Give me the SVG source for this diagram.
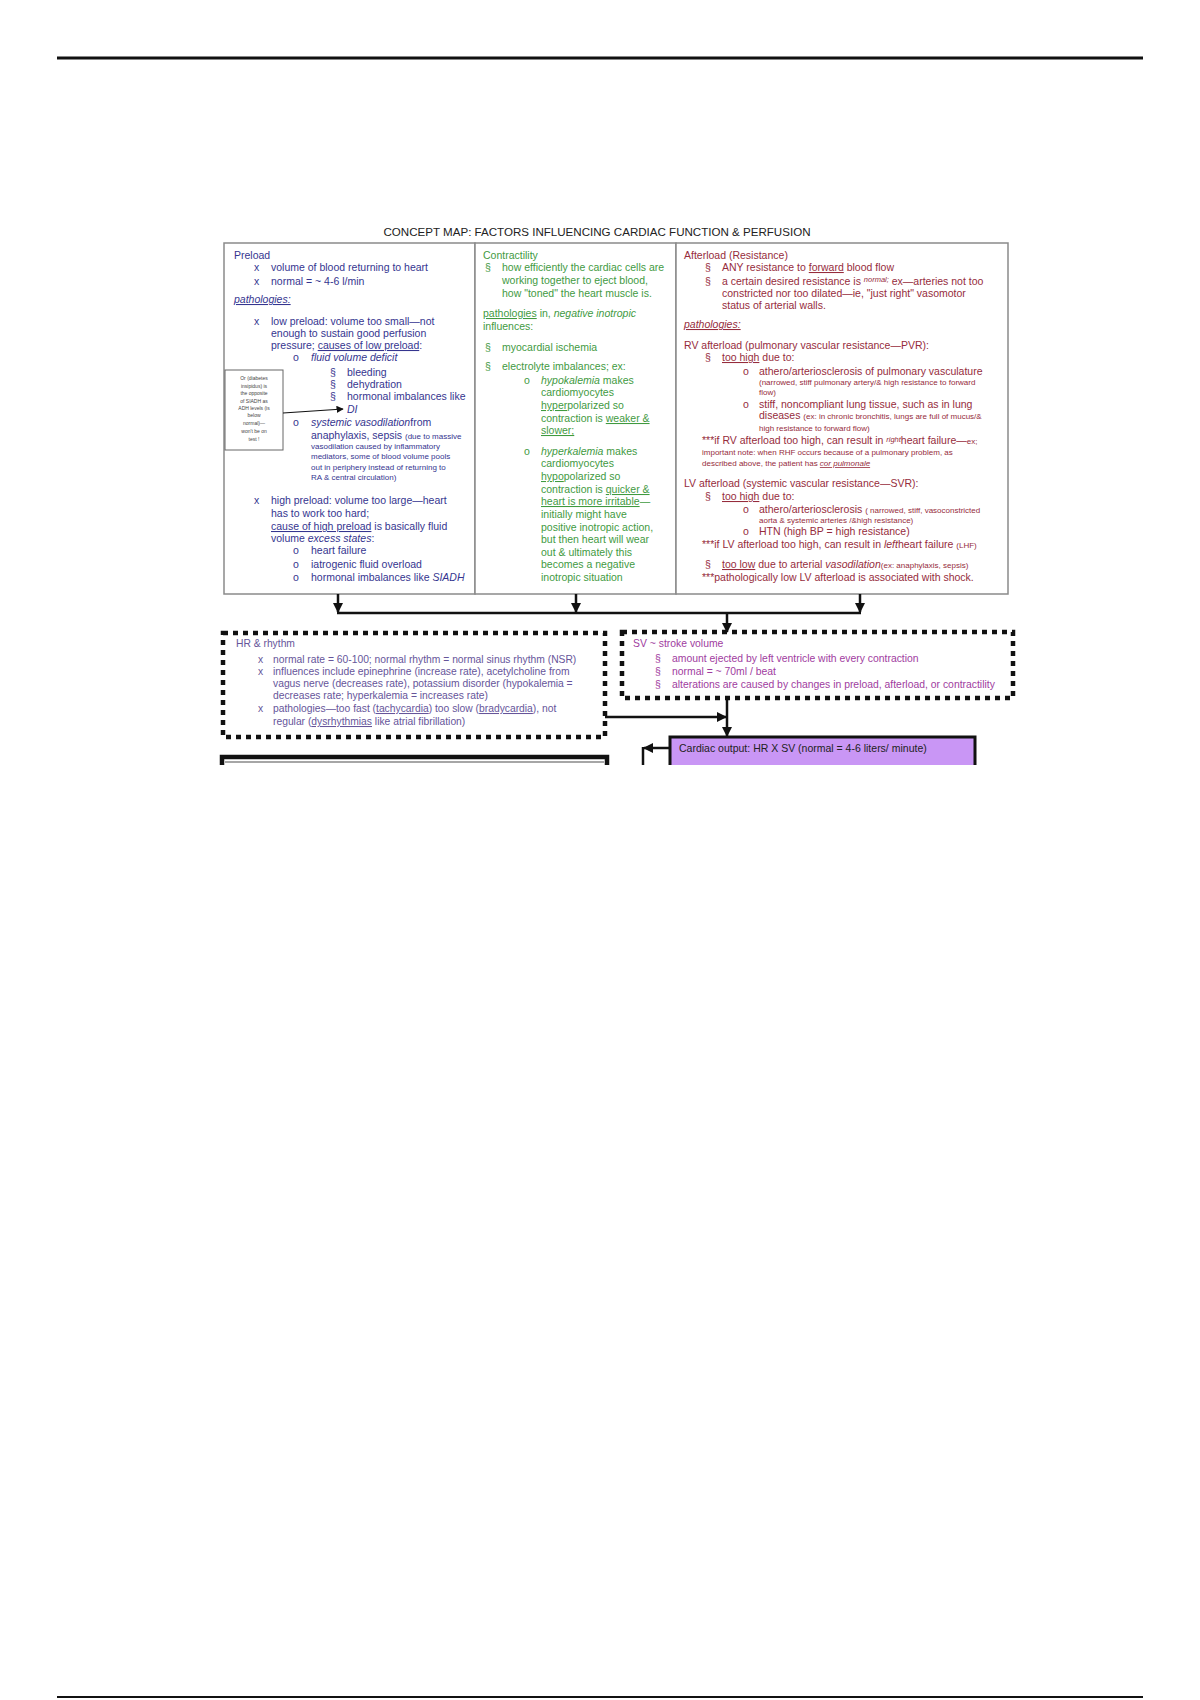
<svg xmlns="http://www.w3.org/2000/svg" width="1200" height="1700" viewBox="0 0 1200 1700">
<defs>
<style>
text{font-family:"Liberation Sans",Arial,sans-serif;font-size:10.5px}
.pre text{fill:#35358f}
.con text{fill:#3f9a3f}
.aft text{fill:#962c3c}
.hr text{fill:#66559a;font-size:10.3px}
.sv text{fill:#a03ca0;font-size:10.4px}
.sm{font-size:8px}
.xs text{font-size:5px;fill:#444}
.i{font-style:italic}
.u{text-decoration:underline}
.col{fill:#fff;stroke:#8a8a8a;stroke-width:1.5}
.dot{fill:#fff;stroke:#111;stroke-width:4.5;stroke-dasharray:5 5}
.ln{fill:none;stroke:#111;stroke-width:2.5}
</style>
<marker id="ah" viewBox="0 0 10 10" refX="9" refY="5" markerWidth="4" markerHeight="4" orient="auto-start-reverse" markerUnits="strokeWidth">
<path d="M0,0 L10,5 L0,10 z" fill="#111"/>
</marker>
<marker id="ahs" viewBox="0 0 10 10" refX="9" refY="5" markerWidth="6" markerHeight="6" orient="auto" markerUnits="strokeWidth">
<path d="M0,0 L10,5 L0,10 z" fill="#111"/>
</marker>
</defs>
<rect width="1200" height="1700" fill="#fff"/>
<line x1="57" y1="58" x2="1143" y2="58" stroke="#111" stroke-width="3"/>
<line x1="57" y1="1697" x2="1143" y2="1697" stroke="#111" stroke-width="2"/>

<g id="title">
<text x="597" y="236" text-anchor="middle" font-size="12" fill="#222" textLength="427" lengthAdjust="spacingAndGlyphs">CONCEPT MAP: FACTORS INFLUENCING CARDIAC FUNCTION &amp; PERFUSION</text>
</g>

<g id="preload">
<rect class="col" x="224" y="243" width="251" height="351"/>
<g class="pre">
<text x="234" y="259">Preload</text>
<text x="254" y="271">x</text><text x="271" y="271">volume of blood returning to heart</text>
<text x="254" y="285">x</text><text x="271" y="285">normal = ~ 4-6 l/min</text>
<text x="234" y="303" class="i u">pathologies:</text>
<text x="254" y="325">x</text><text x="271" y="325">low preload: volume too small—not</text>
<text x="271" y="337">enough to sustain good perfusion</text>
<text x="271" y="349">pressure; <tspan class="u">causes of low preload</tspan>:</text>
<text x="293" y="361">o</text><text x="311" y="361" class="i">fluid volume deficit</text>
<text x="330" y="376">§</text><text x="347" y="376">bleeding</text>
<text x="330" y="388">§</text><text x="347" y="388">dehydration</text>
<text x="330" y="400">§</text><text x="347" y="400">hormonal imbalances like</text>
<text x="347" y="413" class="i">DI</text>
<text x="293" y="426">o</text><text x="311" y="426"><tspan class="i">systemic vasodilation</tspan>from</text>
<text x="311" y="439">anaphylaxis, sepsis <tspan class="sm">(due to massive</tspan></text>
<text x="311" y="449" class="sm">vasodilation caused by inflammatory</text>
<text x="311" y="459" class="sm">mediators, some of blood volume pools</text>
<text x="311" y="470" class="sm">out in periphery instead of returning to</text>
<text x="311" y="480" class="sm">RA &amp; central circulation)</text>
<text x="254" y="504">x</text><text x="271" y="504">high preload: volume too large—heart</text>
<text x="271" y="517">has to work too hard;</text>
<text x="271" y="530"><tspan class="u">cause of high preload</tspan> is basically fluid</text>
<text x="271" y="542">volume <tspan class="i">excess states</tspan>:</text>
<text x="293" y="554">o</text><text x="311" y="554">heart failure</text>
<text x="293" y="568">o</text><text x="311" y="568">iatrogenic fluid overload</text>
<text x="293" y="581">o</text><text x="311" y="581">hormonal imbalances like <tspan class="i">SIADH</tspan></text>
</g>
</g>

<g id="side-note">
<rect x="225" y="370" width="58" height="80" fill="#fff" stroke="#666" stroke-width="1"/>
<g class="xs" text-anchor="middle">
<text x="254" y="380">Or (diabetes</text>
<text x="254" y="388">insipidus) is</text>
<text x="254" y="395">the opposite</text>
<text x="254" y="403">of SIADH as</text>
<text x="254" y="410">ADH levels (is</text>
<text x="254" y="417">below</text>
<text x="254" y="425">normal)—</text>
<text x="254" y="433">won't be on</text>
<text x="254" y="441">test !</text>
</g>
</g>

<g id="contractility">
<rect class="col" x="475" y="243" width="201" height="351"/>
<g class="con">
<text x="483" y="259">Contractility</text>
<text x="485" y="271">§</text><text x="502" y="271">how efficiently the cardiac cells are</text>
<text x="502" y="284">working together to eject blood,</text>
<text x="502" y="297">how "toned" the heart muscle is.</text>
<text x="483" y="317"><tspan class="u">pathologies</tspan> in,  <tspan class="i">negative inotropic</tspan></text>
<text x="483" y="330">influences:</text>
<text x="485" y="351">§</text><text x="502" y="351">myocardial ischemia</text>
<text x="485" y="370">§</text><text x="502" y="370">electrolyte imbalances; ex:</text>
<text x="524" y="384">o</text><text x="541" y="384"><tspan class="i">hypokalemia</tspan> makes</text>
<text x="541" y="396">cardiomyocytes</text>
<text x="541" y="409"><tspan class="u">hyper</tspan>polarized so</text>
<text x="541" y="422">contraction is <tspan class="u">weaker &amp;</tspan></text>
<text x="541" y="434" class="u">slower;</text>
<text x="524" y="455">o</text><text x="541" y="455"><tspan class="i">hyperkalemia</tspan> makes</text>
<text x="541" y="467">cardiomyocytes</text>
<text x="541" y="480"><tspan class="u">hypo</tspan>polarized so</text>
<text x="541" y="493">contraction is <tspan class="u">quicker &amp;</tspan></text>
<text x="541" y="505"><tspan class="u">heart is more irritable</tspan>—</text>
<text x="541" y="518">initially might  have</text>
<text x="541" y="531">positive inotropic action,</text>
<text x="541" y="543">but then heart will wear</text>
<text x="541" y="556">out &amp; ultimately this</text>
<text x="541" y="568">becomes a negative</text>
<text x="541" y="581">inotropic situation</text>
</g>
</g>

<g id="afterload">
<rect class="col" x="676" y="243" width="332" height="351"/>
<g class="aft">
<text x="684" y="259">Afterload (Resistance)</text>
<text x="705" y="271">§</text><text x="722" y="271">ANY resistance to <tspan class="u">forward</tspan> blood flow</text>
<text x="705" y="285">§</text><text x="722" y="285">a certain desired resistance is <tspan class="i" font-size="7.5" dy="-3">normal;</tspan><tspan dy="3"> ex—arteries not too</tspan></text>
<text x="722" y="297">constricted nor too dilated—ie, "just right" vasomotor</text>
<text x="722" y="309">status of arterial walls.</text>
<text x="684" y="328" class="i u">pathologies:</text>
<text x="684" y="349">RV afterload (pulmonary vascular resistance—PVR):</text>
<text x="705" y="361">§</text><text x="722" y="361"><tspan class="u">too high</tspan> due to:</text>
<text x="743" y="375">o</text><text x="759" y="375">athero/arteriosclerosis of pulmonary vasculature</text>
<text x="759" y="385" class="sm">(narrowed, stiff pulmonary artery/&amp; high resistance to forward</text>
<text x="759" y="395" class="sm">flow)</text>
<text x="743" y="408">o</text><text x="759" y="408">stiff, noncompliant lung tissue, such as in lung</text>
<text x="759" y="419">diseases <tspan class="sm">(ex:  in chronic bronchitis, lungs are full of mucus/&amp;</tspan></text>
<text x="759" y="431" class="sm">high resistance to forward flow)</text>
<text x="702" y="444">***if RV afterload too high, can result in    <tspan class="i" font-size="7.5" dy="-2">right</tspan><tspan dy="2">heart failure—</tspan><tspan class="sm">ex;</tspan></text>
<text x="702" y="455" class="sm">important note:  when RHF occurs because of a  pulmonary problem, as</text>
<text x="702" y="466" class="sm">described above, the patient has  <tspan class="i u">cor pulmonale</tspan></text>
<text x="684" y="487">LV afterload (systemic vascular resistance—SVR):</text>
<text x="705" y="500">§</text><text x="722" y="500"><tspan class="u">too high</tspan> due to:</text>
<text x="743" y="513" font-size="7">o</text><text x="759" y="513">athero/arteriosclerosis <tspan class="sm">( narrowed, stiff, vasoconstricted</tspan></text>
<text x="759" y="523" class="sm">aorta &amp; systemic arteries /&amp;high resistance)</text>
<text x="743" y="535">o</text><text x="759" y="535">HTN (high BP = high resistance)</text>
<text x="702" y="548">***if LV afterload too high, can result in     <tspan class="i">left</tspan>heart failure <tspan class="sm">(LHF)</tspan></text>
<text x="705" y="568" font-size="6">§</text><text x="722" y="568"><tspan class="u">too low</tspan> due to arterial    <tspan class="i">vasodilation</tspan><tspan class="sm">(ex: anaphylaxis, sepsis)</tspan></text>
<text x="702" y="581">***pathologically low LV afterload is associated with shock.</text>
</g>
</g>

<g id="hr-rhythm">
<rect class="dot" x="223" y="633" width="382" height="104"/>
<g class="hr">
<text x="236" y="647">HR &amp; rhythm</text>
<text x="258" y="663">x</text><text x="273" y="663">normal rate = 60-100; normal rhythm = normal sinus rhythm (NSR)</text>
<text x="258" y="675">x</text><text x="273" y="675">influences include epinephrine (increase rate), acetylcholine from</text>
<text x="273" y="687">vagus nerve (decreases rate), potassium disorder (hypokalemia =</text>
<text x="273" y="699">decreases rate; hyperkalemia = increases rate)</text>
<text x="258" y="712">x</text><text x="273" y="712">pathologies—too fast (<tspan class="u">tachycardia</tspan>) too slow (<tspan class="u">bradycardia</tspan>), not</text>
<text x="273" y="725">regular (<tspan class="u">dysrhythmias</tspan> like atrial fibrillation)</text>
</g>
</g>

<g id="stroke-volume">
<rect class="dot" x="622" y="632" width="391" height="66"/>
<g class="sv">
<text x="633" y="647">SV ~ stroke volume</text>
<text x="655" y="662">§</text><text x="672" y="662">amount ejected by left ventricle with every contraction</text>
<text x="655" y="675">§</text><text x="672" y="675">normal = ~ 70ml / beat</text>
<text x="655" y="688">§</text><text x="672" y="688">alterations are caused by changes in preload, afterload, or contractility</text>
</g>
</g>

<g id="cardiac-output">
<rect x="670" y="737" width="305" height="30" fill="#c996f5"/>
<path d="M670,766 V737 H975 V766" fill="none" stroke="#111" stroke-width="3"/>
<text x="679" y="752" fill="#222" font-size="10.7">Cardiac output:  HR X SV (normal = 4-6 liters/ minute)</text>
</g>

<g id="bottom-box">
<path d="M222,766 V757 H607 V766" fill="none" stroke="#111" stroke-width="4.5"/>
<line x1="225" y1="762" x2="604" y2="762" stroke="#888" stroke-width="1.5"/>
</g>
<rect x="0" y="765" width="1200" height="20" fill="#fff"/>

<g id="connectors">
<line class="ln" x1="338" y1="594" x2="338" y2="612" marker-end="url(#ah)"/>
<line class="ln" x1="576" y1="594" x2="576" y2="612" marker-end="url(#ah)"/>
<line class="ln" x1="860" y1="594" x2="860" y2="612" marker-end="url(#ah)"/>
<line class="ln" x1="337" y1="613" x2="861" y2="613"/>
<line class="ln" x1="727" y1="613" x2="727" y2="632" marker-end="url(#ah)"/>
<line class="ln" x1="727" y1="698" x2="727" y2="736" marker-end="url(#ah)"/>
<line class="ln" x1="605" y1="717" x2="726" y2="717" marker-end="url(#ah)"/>
<line class="ln" x1="670" y1="748" x2="644" y2="748" marker-end="url(#ah)"/>
<line class="ln" x1="643" y1="747" x2="643" y2="765"/>
<line x1="283" y1="413" x2="343" y2="409" stroke="#111" stroke-width="1.2" marker-end="url(#ahs)"/>
</g>
</svg>
